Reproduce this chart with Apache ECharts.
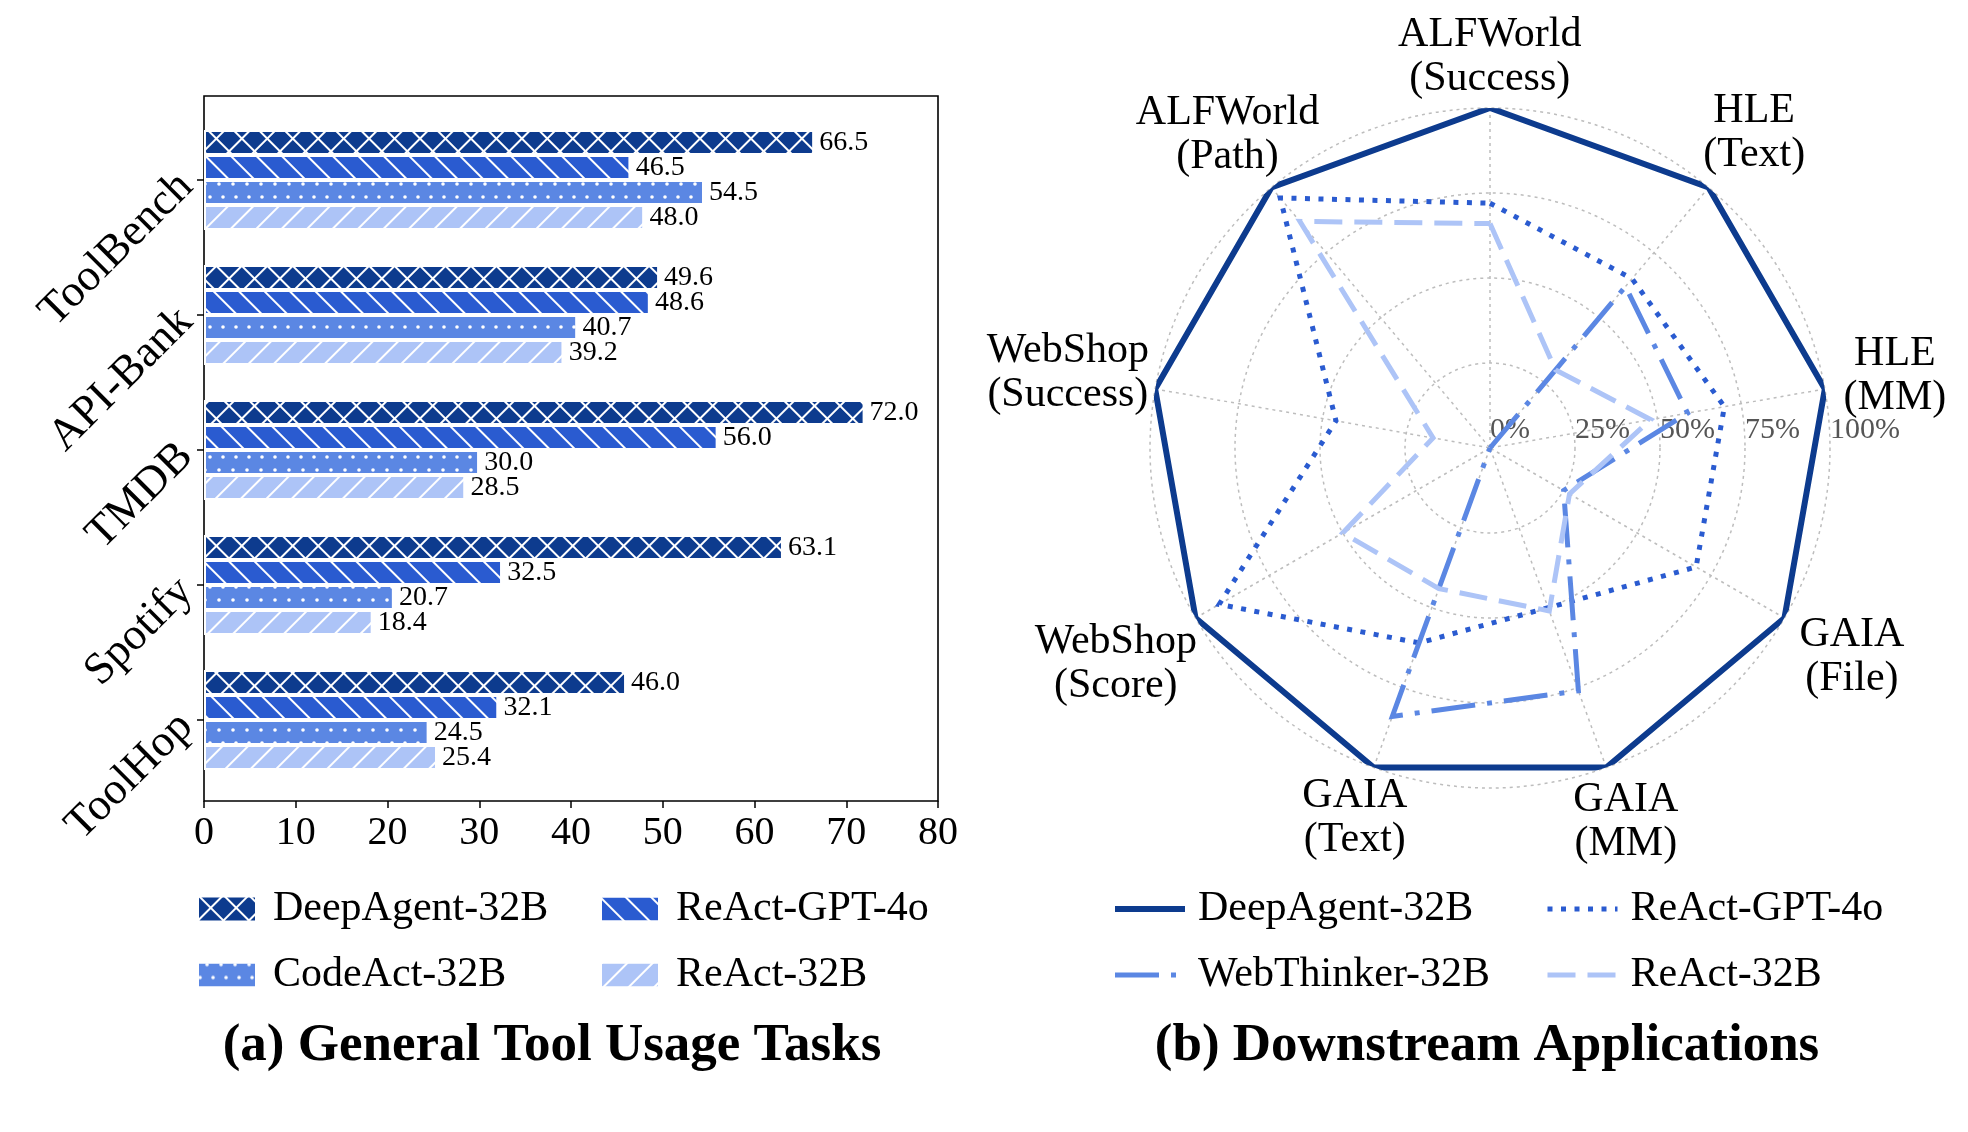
<!DOCTYPE html>
<html>
<head>
<meta charset="utf-8">
<script src="https://cdn.jsdelivr.net/npm/echarts@6/dist/echarts.min.js"></script>
<style>
html,body{margin:0;padding:0;background:#ffffff;}
#chart{width:1968px;height:1132px;}
</style>
</head>
<body>
<div id="chart"></div>
<script>
// ---------------- DATA ----------------
const barCategories = ['ToolBench', 'API-Bank', 'TMDB', 'Spotify', 'ToolHop'];
const barSeriesNames = ['DeepAgent-32B', 'ReAct-GPT-4o', 'CodeAct-32B', 'ReAct-32B'];
const barDeepAgent  = [66.5, 49.6, 72.0, 63.1, 46.0];
const barReActGPT4o = [46.5, 48.6, 56.0, 32.5, 32.1];
const barCodeAct    = [54.5, 40.7, 30.0, 20.7, 24.5];
const barReAct32B   = [48.0, 39.2, 28.5, 18.4, 25.4];
const barTicks = [0, 10, 20, 30, 40, 50, 60, 70, 80];

const radarIndicators = ['ALFWorld\n(Success)', 'HLE\n(Text)', 'HLE\n(MM)', 'GAIA\n(File)', 'GAIA\n(MM)',
                         'GAIA\n(Text)', 'WebShop\n(Score)', 'WebShop\n(Success)', 'ALFWorld\n(Path)'];
const radarSeriesNames = ['DeepAgent-32B', 'ReAct-GPT-4o', 'WebThinker-32B', 'ReAct-32B'];
const radarDeepAgent  = [100, 100, 100, 100, 100, 100, 100, 100, 100];
const radarReActGPT4o = [72, 65, 70, 70, 50, 61, 92, 46, 96];
const radarWebThinker = [0, 62, 59, 25, 76, 84, 0, 0, 0];
const radarReAct32B   = [66, 30, 48, 27, 51, 44, 50, 17, 87];
const radarTicks = ['0%', '25%', '50%', '75%', '100%'];

const titleA = '(a) General Tool Usage Tasks';
const titleB = '(b) Downstream Applications';

// ---------------- STYLE / LAYOUT ----------------
const FONT = 'Liberation Serif';
const C1 = '#0D3B8E', C2 = '#2A5BD0', C3 = '#5B87E3', C4 = '#ADC4F7';
const CENTER = [1490, 448], RADIUS = 340;
const NAME_RADIUS = [115, 121, 121, 123, 117, 116, 127, 126, 120]; // label placement (% of radius)
const SUFFIX = ' (b)';
const STEP = 360 / radarIndicators.length;
const NO_DECAL = {symbol: 'rect', symbolSize: 1, color: 'rgba(0,0,0,0)', backgroundColor: 'rgba(0,0,0,0)'};

const decals = [
  {symbol: 'rect', symbolSize: 1, dashArrayX: [16, 2], dashArrayY: [16, 2], rotation: Math.PI / 4, color: C1, backgroundColor: '#ffffff'},
  {symbol: 'rect', symbolSize: 1, dashArrayX: [1, 0], dashArrayY: [2, 16], rotation: Math.PI / 4, color: '#ffffff'},
  {symbol: 'circle', symbolSize: 0.9, dashArrayX: [[4, 9], [0, 6.5, 4, 2.5]], dashArrayY: [4, 9], rotation: 0, color: '#ffffff'},
  {symbol: 'rect', symbolSize: 1, dashArrayX: [1, 0], dashArrayY: [2, 16], rotation: -Math.PI / 4, color: '#ffffff'}
];
const barColors = [C1, C2, C3, C4];
const barData = [barDeepAgent, barReActGPT4o, barCodeAct, barReAct32B];

const radarData = [radarDeepAgent, radarReActGPT4o, radarWebThinker, radarReAct32B];
const radarLines = [
  {color: C1, width: 6, type: 'solid'},
  {color: C2, width: 5, type: [5, 8.5]},
  {color: C3, width: 5, type: [44, 12, 5, 12]},
  {color: C4, width: 5, type: [28, 12]}
];
const gridLine = {color: '#bdbdbd', width: 1.5, type: [3, 4]};

function closeLoop(arr) {
  const pts = arr.map((v, i) => [v, i * STEP]);
  pts.push([arr[0], 360]);
  return pts;
}

const series = [];
barData.forEach((d, k) => {
  series.push({
    type: 'bar', name: barSeriesNames[k], xAxisIndex: 0, yAxisIndex: 0,
    data: d, barWidth: 25, barGap: '0%',
    itemStyle: {color: barColors[k], borderColor: '#ffffff', borderWidth: 2, decal: decals[k]},
    label: {show: true, position: 'right', distance: 5, fontSize: 28, color: '#000', fontFamily: FONT,
            formatter: p => p.value.toFixed(1)}
  });
});
radarData.forEach((d, k) => {
  series.push({
    type: 'line', name: radarSeriesNames[k] + SUFFIX, coordinateSystem: 'polar', polarIndex: 0,
    data: closeLoop(d), symbol: 'none', clip: false,
    lineStyle: {color: radarLines[k].color, width: radarLines[k].width, type: radarLines[k].type, cap: 'butt', join: 'miter'},
    itemStyle: {color: radarLines[k].color, decal: NO_DECAL}
  });
});
series.push({
  type: 'scatter', name: 'axisNames', coordinateSystem: 'polar', polarIndex: 0, silent: true, clip: false,
  data: radarIndicators.map((n, i) => [NAME_RADIUS[i], i * STEP]),
  symbolSize: 0.5, itemStyle: {color: '#ffffff', opacity: 1, decal: NO_DECAL},
  label: {show: true, position: [0, 0], align: 'center', verticalAlign: 'middle',
          color: '#000000', opacity: 1, textBorderWidth: 0,
          fontSize: 42, lineHeight: 44, fontFamily: FONT,
          formatter: p => radarIndicators[p.dataIndex]}
});

const legendText = (w, pad) => ({
  fontFamily: FONT, fontSize: 42, color: '#000', lineHeight: 29,
  rich: {t: {width: w, padding: [0, 0, 0, pad], fontFamily: FONT, fontSize: 42, color: '#000', lineHeight: 29}}
});

const option = {
  animation: false,
  backgroundColor: '#ffffff',
  aria: {enabled: true, decal: {show: true}},
  textStyle: {fontFamily: FONT},
  title: [
    {text: titleA, left: 552, top: 1020, textAlign: 'center', padding: 0,
     textStyle: {fontFamily: FONT, fontSize: 53, fontWeight: 'bold', color: '#000'}},
    {text: titleB, left: 1487, top: 1020, textAlign: 'center', padding: 0,
     textStyle: {fontFamily: FONT, fontSize: 53, fontWeight: 'bold', color: '#000'}}
  ],
  legend: [
    {data: barSeriesNames, left: 197, top: 888, width: 800, padding: 0, itemGap: 24,
     itemWidth: 58, itemHeight: 25, icon: 'rect', selectedMode: false,
     formatter: n => '{t|' + n + '}', textStyle: legendText(303, 12)},
    {data: radarSeriesNames.map((n, k) => ({name: n + SUFFIX, lineStyle: {width: radarLines[k].width}})),
     left: 1112, top: 888, width: 900, padding: 0, itemGap: 24,
     itemWidth: 70, itemHeight: 25, selectedMode: false,
     itemStyle: {opacity: 0, color: 'rgba(0,0,0,0)', borderWidth: 0},
     formatter: n => '{t|' + n.replace(SUFFIX, '') + '}', textStyle: legendText(323, 8)}
  ],
  grid: [
    {left: 204, top: 112.5, width: 734, height: 675, show: false},
    {left: 204, top: 96, width: 734, height: 705, show: true, borderColor: '#000', borderWidth: 1.6, backgroundColor: 'transparent'}
  ],
  xAxis: [
    {gridIndex: 0, type: 'value', min: barTicks[0], max: barTicks[barTicks.length - 1], show: false},
    {gridIndex: 1, type: 'value', min: barTicks[0], max: barTicks[barTicks.length - 1], interval: barTicks[1] - barTicks[0],
     axisLine: {show: false}, splitLine: {show: false},
     axisTick: {show: true, inside: false, length: 7, lineStyle: {color: '#000', width: 1.5}},
     axisLabel: {fontSize: 40, color: '#000', margin: 12, fontFamily: FONT}}
  ],
  yAxis: [
    {gridIndex: 0, type: 'category', data: barCategories, inverse: true,
     axisLine: {show: false}, splitLine: {show: false},
     axisTick: {show: true, alignWithLabel: true, length: 7, lineStyle: {color: '#000', width: 1.5}},
     axisLabel: {rotate: 45, fontSize: 45, color: '#000', margin: 18, fontFamily: FONT}},
    {gridIndex: 1, type: 'value', show: false}
  ],
  polar: [
    {center: CENTER, radius: RADIUS},
    {center: CENTER, radius: RADIUS}
  ],
  angleAxis: [
    {polarIndex: 0, type: 'value', min: 0, max: 360, interval: STEP, startAngle: 90, clockwise: true,
     axisLine: {show: false}, axisTick: {show: false}, axisLabel: {show: false},
     splitLine: {show: true, lineStyle: gridLine}},
    {polarIndex: 1, type: 'value', startAngle: 0, min: 0, max: 360,
     axisLine: {show: false}, axisTick: {show: false}, axisLabel: {show: false}, splitLine: {show: false}}
  ],
  radiusAxis: [
    {polarIndex: 0, type: 'value', min: 0, max: 100, interval: 25,
     axisLine: {show: false}, axisTick: {show: false}, axisLabel: {show: false},
     splitLine: {show: true, lineStyle: gridLine}},
    {polarIndex: 1, type: 'value', min: 0, max: 100, interval: 25,
     axisLine: {show: false}, axisTick: {show: false}, splitLine: {show: false},
     axisLabel: {show: true, formatter: v => radarTicks[Math.round(v / 25)], align: 'left', verticalAlign: 'bottom',
                 margin: 3, fontSize: 30, color: '#555555', fontFamily: FONT}}
  ],
  series: series
};

const chart = echarts.init(document.getElementById('chart'), null, {renderer: 'canvas'});
chart.setOption(option);
</script>
</body>
</html>
